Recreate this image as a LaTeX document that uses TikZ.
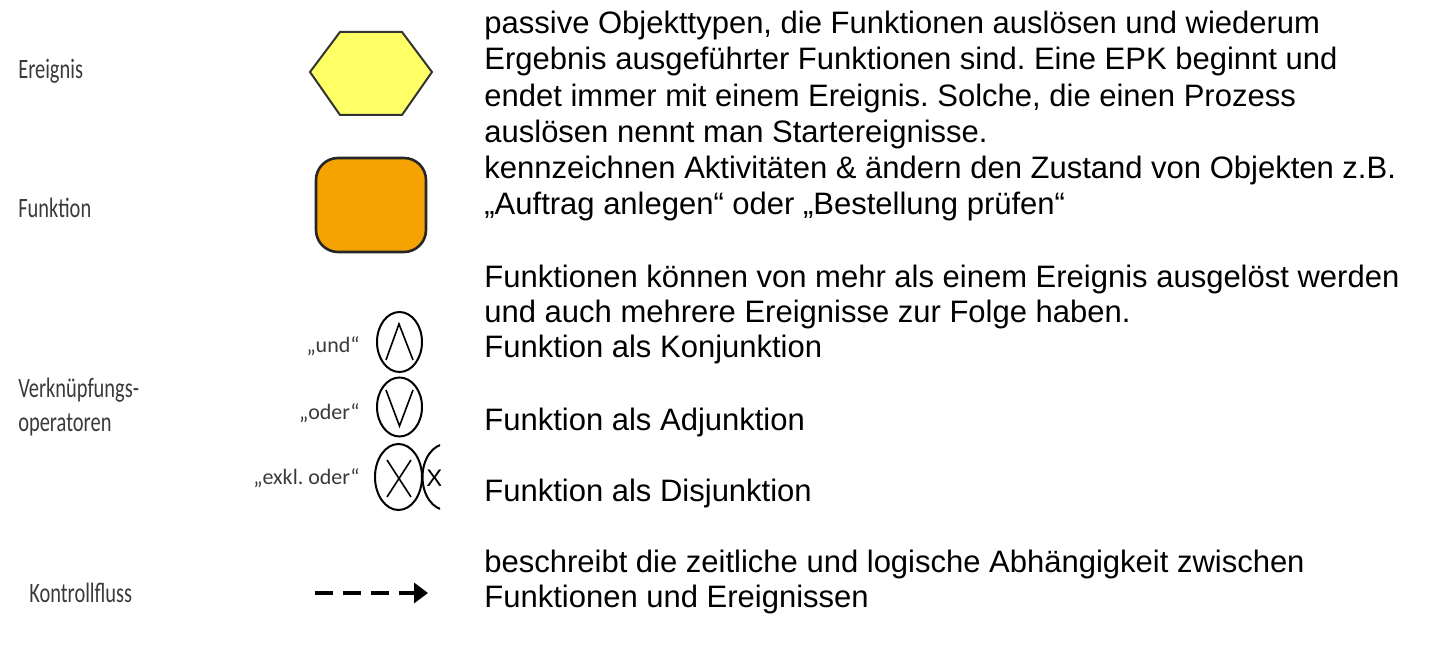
\documentclass[tikz,border=0pt]{standalone}
\usepackage{fontspec}
\setmainfont{Liberation Sans}
\newfontfamily\lblfont{Carlito}
\usetikzlibrary{arrows.meta}
\definecolor{evyellow}{HTML}{FFFF66}
\definecolor{fnorange}{HTML}{F5A300}
\definecolor{lblgray}{HTML}{3A3A3A}
\begin{document}
\frenchspacing
\begin{tikzpicture}[x={(0.5pt,0)},y={(0,-0.5pt)},
  desc/.style={anchor=base west,inner sep=0pt,font=\fontsize{15.5pt}{18pt}\selectfont},
  leftlbl/.style={anchor=base west,inner sep=0pt,text=lblgray,font=\lblfont\fontsize{14pt}{16pt}\selectfont,xscale=0.73},
  oplbl/.style={anchor=base east,inner sep=0pt,text=lblgray,font=\lblfont\fontsize{11pt}{12pt}\selectfont},
  opcircle/.style={draw=black,line width=1pt},
  opsym/.style={line width=0.8pt}]
\useasboundingbox (0,0) rectangle (1431,657);
% left labels
\node[leftlbl] (l-ev) at (18,79) {Ereignis};
\node[leftlbl] (l-fn) at (18,218) {Funktion};
\node[leftlbl] (l-vk1) at (18,398) {Verknüpfungs-};
\node[leftlbl] (l-vk2) at (18,432) {operatoren};
\node[leftlbl] (l-kf) at (29,603) {Kontrollfluss};
% event hexagon
\draw[fill=evyellow,draw=black!80,line width=1pt]
  (310,72) -- (340,32) -- (402,32) -- (432,72) -- (402,115) -- (340,115) -- cycle;
% function rounded box
\draw[fill=fnorange,draw=black!85,line width=1.3pt,rounded corners=11pt]
  (316,158) rectangle (426,252);
% operators
\node[oplbl] (o-und) at (360,353) {„und“};
\node[oplbl] (o-oder) at (360,420) {„oder“};
\node[oplbl] (o-xor) at (360,485) {„exkl. oder“};
\draw[opcircle] (399.5,342) ellipse [x radius=11.25pt,y radius=15pt];
\draw[opsym] (386,360) -- (399,324) -- (413,360);
\draw[opcircle] (399.5,407) ellipse [x radius=11.25pt,y radius=14.75pt];
\draw[opsym] (386,390) -- (399.5,426) -- (413,390);
\draw[opcircle] (398.5,477) ellipse [x radius=11.75pt,y radius=16.5pt];
\draw[opsym] (387,460) -- (411,497) (411,460) -- (387,497);
\begin{scope}
  \clip (420,430) rectangle (440,520);
  \draw[opcircle] (446,477) ellipse [x radius=11.75pt,y radius=16.5pt];
  \node[anchor=west,inner sep=0pt,font=\fontsize{12pt}{12pt}\selectfont] (o-xortxt) at (426,478) {XOR};
\end{scope}
% control flow arrow
\coordinate (kf-a) at (315,593);
\coordinate (kf-b) at (390,593);
\coordinate (kf-c) at (399,593);
\coordinate (kf-d) at (428,593);
\draw[line width=2pt,dash pattern=on 9pt off 5pt] (kf-a) -- (kf-b);
\draw[line width=2pt,-{Triangle[length=7pt,width=10pt]}] (kf-c) -- (kf-d);
% descriptions
\node[desc] (d1) at (484,34) {passive Objekttypen, die Funktionen auslösen und wiederum};
\node[desc] (d2) at (484,70) {Ergebnis ausgeführter Funktionen sind. Eine EPK beginnt und};
\node[desc] (d3) at (484,107) {endet immer mit einem Ereignis. Solche, die einen Prozess};
\node[desc] (d4) at (484,143) {auslösen nennt man Startereignisse.};
\node[desc] (d5) at (484,179) {kennzeichnen Aktivitäten \& ändern den Zustand von Objekten z.B.};
\node[desc] (d6) at (484,215) {„Auftrag anlegen“ oder „Bestellung prüfen“};
\node[desc] (d7) at (484,288) {Funktionen können von mehr als einem Ereignis ausgelöst werden};
\node[desc] (d8) at (484,323) {und auch mehrere Ereignisse zur Folge haben.};
\node[desc] (d9) at (484,358) {Funktion als Konjunktion};
\node[desc] (d10) at (484,431) {Funktion als Adjunktion};
\node[desc] (d11) at (484,502) {Funktion als Disjunktion};
\node[desc] (d12) at (484,573) {beschreibt die zeitliche und logische Abhängigkeit zwischen};
\node[desc] (d13) at (484,608) {Funktionen und Ereignissen};
\end{tikzpicture}
\end{document}
